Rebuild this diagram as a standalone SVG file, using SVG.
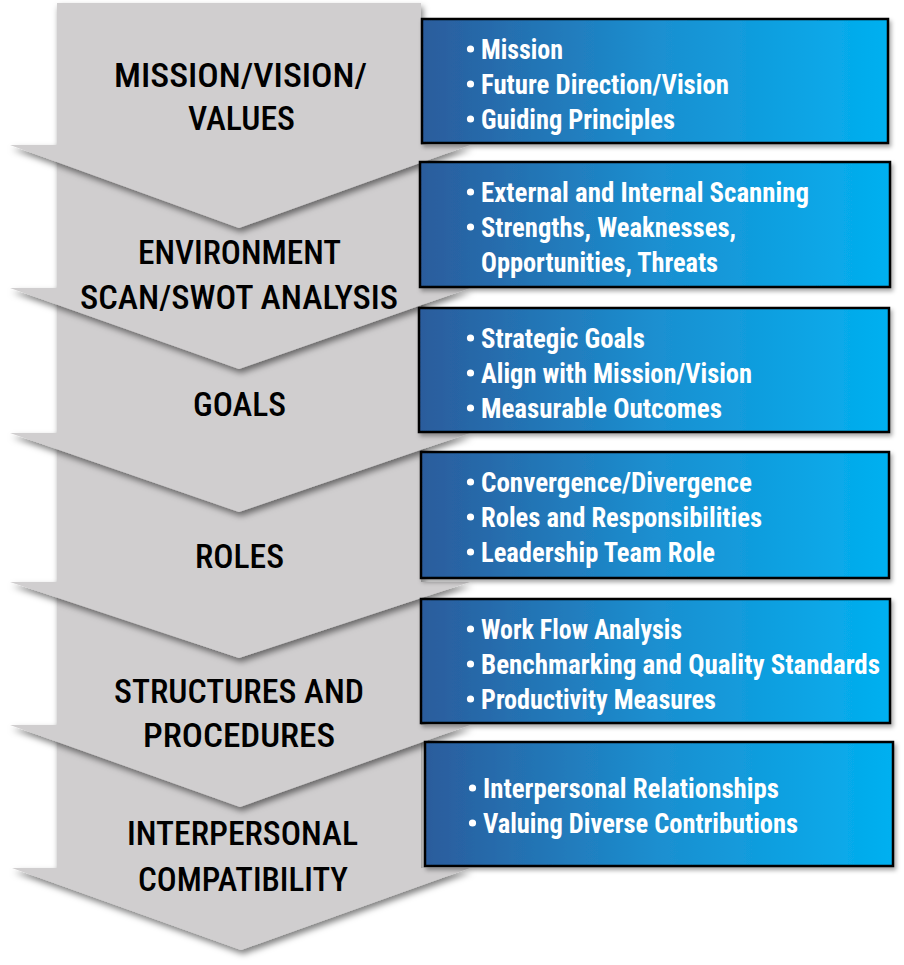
<svg xmlns="http://www.w3.org/2000/svg" width="904" height="965" viewBox="0 0 904 965">
<style>
.arrow{fill:#d0cecf;filter:url(#sh)}
.box{fill:url(#bg);stroke:#000;stroke-width:2.5;filter:url(#bsh)}
.lbl{font-family:"Liberation Sans Narrow","Roboto Condensed","Roboto","Liberation Sans",sans-serif;font-weight:500;font-size:34px;fill:#000}
.itm{font-family:"Liberation Sans Narrow","Roboto Condensed","Roboto","Liberation Sans",sans-serif;font-weight:bold;font-size:28px;fill:#fff}
.dot{fill:#fff}
</style>
<defs>
<linearGradient id="bg" x1="0" y1="0" x2="1" y2="0">
<stop offset="0" stop-color="#2b5c9c"/>
<stop offset="0.5" stop-color="#1b8fd0"/>
<stop offset="1" stop-color="#02b0f0"/>
</linearGradient>
<filter id="sh" x="-10%" y="-10%" width="120%" height="130%">
<feDropShadow dx="2" dy="4" stdDeviation="3" flood-color="#000" flood-opacity="0.5"/>
</filter>
<filter id="bsh" x="-5%" y="-10%" width="110%" height="130%">
<feDropShadow dx="2" dy="3" stdDeviation="2" flood-color="#000" flood-opacity="0.35"/>
</filter>
</defs>

<g id="arrows">
<g id="arrow6"><path class="arrow" d="M57,725 L421,725 L421,868 L470,868 L241,950 L12,868 L57,868 Z"/></g>
<g id="arrow5"><path class="arrow" d="M57,582 L421,582 L421,725 L470,725 L240,807 L10,725 L57,725 Z"/></g>
<g id="arrow4"><path class="arrow" d="M57,433 L421,433 L421,582 L470,582 L239,658 L10,582 L57,582 Z"/></g>
<g id="arrow3"><path class="arrow" d="M57,288 L421,288 L421,433 L470,433 L239,512 L10,433 L57,433 Z"/></g>
<g id="arrow2"><path class="arrow" d="M57,145 L421,145 L421,288 L470,288 L239,369 L10,288 L57,288 Z"/></g>
<g id="arrow1"><path class="arrow" d="M57,3 L421,3 L421,145 L470,145 L239,228 L10,145 L57,145 Z"/></g>
</g>

<g id="labels">
<text class="lbl" x="114" y="87" textLength="253" lengthAdjust="spacingAndGlyphs">MISSION/VISION/</text>
<text class="lbl" x="188" y="130" textLength="107" lengthAdjust="spacingAndGlyphs">VALUES</text>
<text class="lbl" x="138" y="264" textLength="203" lengthAdjust="spacingAndGlyphs">ENVIRONMENT</text>
<text class="lbl" x="80" y="309" textLength="318" lengthAdjust="spacingAndGlyphs">SCAN/SWOT ANALYSIS</text>
<text class="lbl" x="193" y="416" textLength="93" lengthAdjust="spacingAndGlyphs">GOALS</text>
<text class="lbl" x="195" y="568" textLength="89" lengthAdjust="spacingAndGlyphs">ROLES</text>
<text class="lbl" x="114" y="703" textLength="250" lengthAdjust="spacingAndGlyphs">STRUCTURES AND</text>
<text class="lbl" x="143" y="747" textLength="192" lengthAdjust="spacingAndGlyphs">PROCEDURES</text>
<text class="lbl" x="127" y="845" textLength="231" lengthAdjust="spacingAndGlyphs">INTERPERSONAL</text>
<text class="lbl" x="138" y="891" textLength="210" lengthAdjust="spacingAndGlyphs">COMPATIBILITY</text>
</g>

<g id="box1">
<rect class="box" x="422" y="19" width="466" height="124"/>
<circle class="dot" cx="470.5" cy="49" r="3.6"/><circle class="dot" cx="470.5" cy="84" r="3.6"/><circle class="dot" cx="470.5" cy="119" r="3.6"/>
<text class="itm" x="481" y="59" textLength="82" lengthAdjust="spacingAndGlyphs">Mission</text>
<text class="itm" x="481" y="94" textLength="248" lengthAdjust="spacingAndGlyphs">Future Direction/Vision</text>
<text class="itm" x="481" y="129" textLength="194" lengthAdjust="spacingAndGlyphs">Guiding Principles</text>
</g>

<g id="box2">
<rect class="box" x="420" y="162" width="470" height="125"/>
<circle class="dot" cx="470.5" cy="192" r="3.6"/><circle class="dot" cx="470.5" cy="227" r="3.6"/>
<text class="itm" x="481" y="202" textLength="328" lengthAdjust="spacingAndGlyphs">External and Internal Scanning</text>
<text class="itm" x="481" y="237" textLength="255" lengthAdjust="spacingAndGlyphs">Strengths, Weaknesses,</text>
<text class="itm" x="481" y="272" textLength="237" lengthAdjust="spacingAndGlyphs">Opportunities, Threats</text>
</g>

<g id="box3">
<rect class="box" x="419" y="308" width="470" height="124"/>
<circle class="dot" cx="470.5" cy="338" r="3.6"/><circle class="dot" cx="470.5" cy="373" r="3.6"/><circle class="dot" cx="470.5" cy="408" r="3.6"/>
<text class="itm" x="481" y="348" textLength="164" lengthAdjust="spacingAndGlyphs">Strategic Goals</text>
<text class="itm" x="481" y="383" textLength="271" lengthAdjust="spacingAndGlyphs">Align with Mission/Vision</text>
<text class="itm" x="481" y="418" textLength="241" lengthAdjust="spacingAndGlyphs">Measurable Outcomes</text>
</g>

<g id="box4">
<rect class="box" x="421" y="452" width="468" height="126"/>
<circle class="dot" cx="470.5" cy="482" r="3.6"/><circle class="dot" cx="470.5" cy="517" r="3.6"/><circle class="dot" cx="470.5" cy="552" r="3.6"/>
<text class="itm" x="481" y="492" textLength="271" lengthAdjust="spacingAndGlyphs">Convergence/Divergence</text>
<text class="itm" x="481" y="527" textLength="281" lengthAdjust="spacingAndGlyphs">Roles and Responsibilities</text>
<text class="itm" x="481" y="562" textLength="234" lengthAdjust="spacingAndGlyphs">Leadership Team Role</text>
</g>

<g id="box5">
<rect class="box" x="421" y="599" width="469" height="124"/>
<circle class="dot" cx="470.5" cy="629" r="3.6"/><circle class="dot" cx="470.5" cy="664" r="3.6"/><circle class="dot" cx="470.5" cy="699" r="3.6"/>
<text class="itm" x="481" y="639" textLength="201" lengthAdjust="spacingAndGlyphs">Work Flow Analysis</text>
<text class="itm" x="481" y="674" textLength="399" lengthAdjust="spacingAndGlyphs">Benchmarking and Quality Standards</text>
<text class="itm" x="481" y="709" textLength="235" lengthAdjust="spacingAndGlyphs">Productivity Measures</text>
</g>

<g id="box6">
<rect class="box" x="425" y="742" width="468" height="124"/>
<circle class="dot" cx="472.5" cy="788" r="3.6"/><circle class="dot" cx="472.5" cy="823" r="3.6"/>
<text class="itm" x="483" y="798" textLength="296" lengthAdjust="spacingAndGlyphs">Interpersonal Relationships</text>
<text class="itm" x="483" y="833" textLength="315" lengthAdjust="spacingAndGlyphs">Valuing Diverse Contributions</text>
</g>
</svg>
